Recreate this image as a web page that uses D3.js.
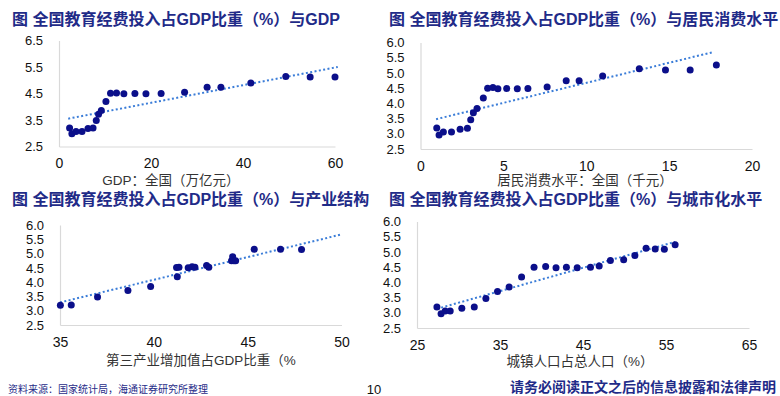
<!DOCTYPE html>
<html>
<head>
<meta charset="utf-8">
<script src="https://cdn.jsdelivr.net/npm/d3@7/dist/d3.min.js"></script>
<style>
  body { margin: 0; background: #fff; }
  svg { display: block; }
  text { font-family: "Liberation Sans", Arial, "Noto Sans CJK SC", sans-serif; }
</style>
</head>
<body>
<script>
// 数据：全国教育经费投入占GDP比重（%）
const gdpX = [2.3, 2.8, 3.7, 5.0, 6.3, 7.4, 8.1, 8.6, 9.2, 10.2, 11.2, 12.5, 14.1, 16.5, 18.9, 22.2, 27.3, 32.2, 35.2, 41.7, 49.3, 54.6, 60.0];
const gdpY = [3.20, 2.98, 3.07, 3.07, 3.18, 3.20, 3.48, 3.72, 3.86, 4.20, 4.51, 4.52, 4.49, 4.50, 4.49, 4.50, 4.55, 4.74, 4.74, 4.90, 5.14, 5.12, 5.12];
const gdpTrend = [[2.0, 3.55], [60.6, 5.5]];

const consX = [0.98, 1.12, 1.38, 1.87, 2.39, 2.83, 3.03, 3.19, 3.41, 3.79, 4.05, 4.37, 4.67, 5.20, 5.84, 6.48, 7.64, 8.79, 9.57, 10.99, 13.20, 14.78, 16.27, 17.85];
const consY = [3.19, 2.96, 3.06, 3.06, 3.15, 3.18, 3.46, 3.69, 3.83, 4.18, 4.50, 4.52, 4.48, 4.49, 4.48, 4.49, 4.54, 4.74, 4.74, 4.90, 5.14, 5.10, 5.10, 5.26];
const consTrend = [[0.94, 3.48], [17.7, 5.69]];

const tertX = [35.02, 35.6, 37.0, 38.62, 39.83, 41.25, 41.21, 41.34, 41.83, 42.04, 42.19, 42.81, 42.93, 44.14, 44.2, 44.27, 44.36, 45.35, 46.75, 47.87];
const tertY = [3.19, 3.20, 3.48, 3.71, 3.85, 4.19, 4.51, 4.52, 4.50, 4.54, 4.52, 4.58, 4.52, 4.75, 4.89, 4.75, 4.75, 5.15, 5.15, 5.14];
const tertTrend = [[35.0, 3.29], [50.0, 5.67]];

const urbX = [27.4, 27.9, 28.4, 29.0, 30.4, 31.9, 33.3, 34.7, 36.1, 37.6, 39.1, 40.5, 41.75, 43.0, 44.3, 45.9, 46.95, 48.3, 49.9, 51.25, 52.6, 53.7, 54.8, 56.1];
const urbY = [3.19, 2.97, 3.06, 3.06, 3.15, 3.19, 3.47, 3.70, 3.85, 4.18, 4.50, 4.52, 4.48, 4.50, 4.48, 4.50, 4.54, 4.72, 4.74, 4.88, 5.12, 5.10, 5.09, 5.24];
const urbTrend = [[27.4, 3.13], [56.1, 5.33]];

// 刻度
const yTicksA = [2.5, 3.5, 4.5, 5.5, 6.5];
const yTicksB = [2.5, 3.0, 3.5, 4.0, 4.5, 5.0, 5.5, 6.0];
const xTicksGdp = [0, 20, 40, 60];
const xTicksCons = [0, 5, 10, 15, 20];
const xTicksTert = [35, 40, 45, 50];
const xTicksUrb = [25, 35, 45, 55, 65];

const titles = [
  "图 全国教育经费投入占GDP比重（%）与GDP",
  "图 全国教育经费投入占GDP比重（%）与居民消费水平",
  "图 全国教育经费投入占GDP比重（%）与产业结构",
  "图 全国教育经费投入占GDP比重（%）与城市化水平"
];
const xLabels = [
  "GDP：全国（万亿元）",
  "居民消费水平：全国（千元）",
  "第三产业增加值占GDP比重（%",
  "城镇人口占总人口（%）"
];

const navy = "#1f2b88";
const dotColor = "#0b0f8a";
const trendColor = "#3b7dd8";
const axisColor = "#d9d9d9";

const svg = d3.select("body").append("svg")
  .attr("width", 780)
  .attr("height", 396);

function drawPanel(p) {
  const g = svg.append("g");

  g.append("text")
    .attr("x", p.titleX).attr("y", p.titleY)
    .attr("fill", navy)
    .attr("font-size", 16)
    .attr("font-weight", "bold")
    .text(p.title);

  const x = d3.scaleLinear().domain(p.xDomain).range(p.xRange);
  const y = d3.scaleLinear().domain(p.yDomain).range(p.yRange);

  const yAxis = g.append("g")
    .attr("transform", `translate(${p.xRange[0]},0)`)
    .call(d3.axisLeft(y).tickValues(p.yTicks).tickFormat(d3.format(".1f")).tickSize(0).tickPadding(16));
  const xAxis = g.append("g")
    .attr("transform", `translate(0,${p.yRange[0]})`)
    .call(d3.axisBottom(x).tickValues(p.xTicks).tickFormat(d3.format("d")).tickSize(0).tickPadding(12));

  [yAxis, xAxis].forEach((a) => {
    a.select(".domain").attr("stroke", axisColor).attr("stroke-width", 1.2);
    a.selectAll("text")
      .attr("font-size", 13)
      .attr("fill", "#111")
      .attr("font-family", "'Liberation Sans', Arial, sans-serif");
  });
  xAxis.selectAll("text").attr("font-size", 14);

  g.append("text")
    .attr("x", p.labelX).attr("y", p.labelY)
    .attr("text-anchor", "middle")
    .attr("font-size", 13.5)
    .attr("fill", "#333")
    .text(p.xLabel);

  const pts = p.xs.map((v, i) => ({ x: v, y: p.ys[i] }));

  g.append("line")
    .attr("x1", x(p.trend[0][0])).attr("y1", y(p.trend[0][1]))
    .attr("x2", x(p.trend[1][0])).attr("y2", y(p.trend[1][1]))
    .attr("stroke", trendColor)
    .attr("stroke-width", 2)
    .attr("stroke-dasharray", "2,2.4");

  g.selectAll("circle")
    .data(pts)
    .join("circle")
    .attr("cx", (d) => x(d.x))
    .attr("cy", (d) => y(d.y))
    .attr("r", 3.5)
    .attr("fill", dotColor);
}

drawPanel({
  title: titles[0], titleX: 12, titleY: 25,
  xDomain: [0, 60], xRange: [59, 335], yDomain: [2.5, 6.5], yRange: [146.5, 40.5],
  yTicks: yTicksA, xTicks: xTicksGdp, xs: gdpX, ys: gdpY, trend: gdpTrend,
  xLabel: xLabels[0], labelX: 171, labelY: 185
});
drawPanel({
  title: titles[1], titleX: 389, titleY: 25,
  xDomain: [0, 20], xRange: [420.5, 752], yDomain: [2.5, 6.0], yRange: [149, 42.5],
  yTicks: yTicksB, xTicks: xTicksCons, xs: consX, ys: consY, trend: consTrend,
  xLabel: xLabels[1], labelX: 585, labelY: 185
});
drawPanel({
  title: titles[2], titleX: 12, titleY: 205,
  xDomain: [35, 50], xRange: [60, 341.5], yDomain: [2.5, 6.0], yRange: [325, 225],
  yTicks: yTicksB, xTicks: xTicksTert, xs: tertX, ys: tertY, trend: tertTrend,
  xLabel: xLabels[2], labelX: 201, labelY: 365
});
drawPanel({
  title: titles[3], titleX: 389, titleY: 205,
  xDomain: [25, 65], xRange: [417, 749], yDomain: [2.5, 6.0], yRange: [328, 221.5],
  yTicks: yTicksB, xTicks: xTicksUrb, xs: urbX, ys: urbY, trend: urbTrend,
  xLabel: xLabels[3], labelX: 580, labelY: 366
});

// 页脚
svg.append("text")
  .attr("x", 8).attr("y", 393)
  .attr("font-size", 10)
  .attr("fill", navy)
  .text("资料来源：国家统计局，海通证券研究所整理");
svg.append("text")
  .attr("x", 374).attr("y", 394)
  .attr("text-anchor", "middle")
  .attr("font-size", 13)
  .attr("fill", "#111")
  .text("10");
svg.append("text")
  .attr("x", 776).attr("y", 392)
  .attr("text-anchor", "end")
  .attr("font-size", 14)
  .attr("font-weight", "bold")
  .attr("fill", navy)
  .text("请务必阅读正文之后的信息披露和法律声明");
</script>
</body>
</html>
